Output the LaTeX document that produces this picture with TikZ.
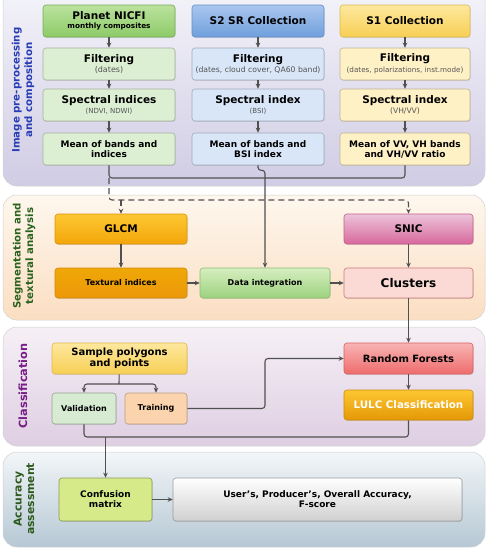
\documentclass[tikz,border=0pt]{standalone}
\usepackage{fontspec}
\setmainfont{DejaVu Sans}
\usepackage{tikz}
\usetikzlibrary{arrows.meta,positioning,calc,shadows}
\usepackage{xcolor}
\definecolor{planetG}{RGB}{140,203,104}
\definecolor{planetGtop}{RGB}{188,226,158}
\definecolor{planetGlight}{RGB}{220,239,211}
\definecolor{sentB}{RGB}{111,159,220}
\definecolor{sentBtop}{RGB}{170,198,238}
\definecolor{sentBlight}{RGB}{216,230,248}
\definecolor{sentY}{RGB}{248,207,85}
\definecolor{sentYtop}{RGB}{253,232,158}
\definecolor{sentYlight}{RGB}{255,241,198}
\definecolor{glcmO}{RGB}{243,166,10}
\definecolor{glcmOtop}{RGB}{253,199,50}
\definecolor{textureO}{RGB}{236,152,8}
\definecolor{integG}{RGB}{156,210,126}
\definecolor{integGtop}{RGB}{214,238,192}
\definecolor{snicP}{RGB}{216,104,156}
\definecolor{snicPtop}{RGB}{236,196,218}
\definecolor{clustP}{RGB}{251,218,214}
\definecolor{validG}{RGB}{214,235,210}
\definecolor{trainO}{RGB}{251,211,173}
\definecolor{forestR}{RGB}{238,108,108}
\definecolor{forestRtop}{RGB}{248,180,180}
\definecolor{lulcO}{RGB}{228,152,5}
\definecolor{confG}{RGB}{214,234,138}
\definecolor{metricG}{RGB}{208,208,208}
\definecolor{panA}{RGB}{208,204,228}
\definecolor{panAtop}{RGB}{244,244,250}
\definecolor{panB}{RGB}{251,222,194}
\definecolor{panBtop}{RGB}{254,247,238}
\definecolor{panC}{RGB}{222,206,226}
\definecolor{panCtop}{RGB}{246,240,246}
\definecolor{panD}{RGB}{182,200,212}
\definecolor{panDtop}{RGB}{242,246,248}
\definecolor{phaseblue}{RGB}{40,60,180}
\definecolor{phasegreen}{RGB}{40,100,30}
\definecolor{phasepurple}{RGB}{120,30,135}
\definecolor{phaseolive}{RGB}{45,90,30}
\definecolor{linkgray}{RGB}{80,80,80}
\definecolor{notegray}{RGB}{85,85,85}
\newcommand{\subnote}[2][7]{{\fontsize{#1}{8}\selectfont\mdseries\color{notegray}#2}}
\newcommand{\fsz}[1]{\fontsize{#1}{#1pt}\selectfont\bfseries}
\tikzset{
    box/.style={rectangle, rounded corners=3pt, line width=0.6pt, align=center, inner sep=1pt,
        minimum width=132pt, minimum height=32pt, font=\fsz{10.5},
        drop shadow={shadow xshift=0.6pt, shadow yshift=-0.9pt, opacity=0.25}},
    headG/.style={box, draw=planetG!85!black, top color=planetGtop, bottom color=planetG},
    headB/.style={box, draw=sentB!90!black, top color=sentBtop, bottom color=sentB},
    headY/.style={box, draw=sentY!90!black, top color=sentYtop, bottom color=sentY},
    subG/.style={box, draw=planetGlight!75!black, fill=planetGlight},
    subB/.style={box, draw=sentBlight!75!black, fill=sentBlight},
    subY/.style={box, draw=sentYlight!75!black, fill=sentYlight},
    glcm/.style={box, minimum height=30pt, draw=glcmO!90!black, top color=glcmOtop, bottom color=glcmO},
    texture/.style={box, minimum height=30pt, draw=textureO!90!black, top color=textureO!85!yellow, bottom color=textureO, font=\fsz{8}},
    integ/.style={box, minimum width=130pt, minimum height=30pt, draw=integG!90!black, top color=integGtop, bottom color=integG, font=\fsz{8}},
    snic/.style={box, minimum width=129pt, minimum height=30pt, draw=snicP!90!black, top color=snicPtop, bottom color=snicP},
    clust/.style={box, minimum width=129pt, minimum height=30pt, draw=clustP!70!red!80!black, fill=clustP, font=\fsz{12}},
    sample/.style={box, minimum width=135pt, minimum height=31pt, draw=sentY!90!black, top color=sentYtop, bottom color=sentY, font=\fsz{10}},
    valid/.style={box, minimum width=64pt, minimum height=31pt, draw=validG!70!black, fill=validG, font=\fsz{8}},
    train/.style={box, minimum width=62pt, minimum height=31pt, draw=trainO!75!black, fill=trainO, font=\fsz{8}},
    forest/.style={box, minimum width=129pt, minimum height=31pt, draw=forestR!90!black, top color=forestRtop, bottom color=forestR, font=\fsz{10}},
    lulc/.style={box, minimum width=129pt, minimum height=30pt, draw=lulcO!90!black, top color=glcmOtop, bottom color=lulcO, text=white, font=\fsz{10.3}},
    confm/.style={box, minimum width=93pt, minimum height=43pt, draw=confG!65!black, fill=confG, font=\fsz{9}},
    metric/.style={box, minimum width=289pt, minimum height=43pt, draw=metricG!75!black, top color=white, bottom color=metricG, font=\fsz{9}},
    panel/.style={rounded corners=14pt, draw=black!18, line width=0.5pt},
    phase/.style={rotate=90, align=center, font=\fontsize{10.2}{12.5}\selectfont\bfseries},
    arr/.style={-{Stealth[length=5pt, width=4.5pt]}, line width=1.1pt, linkgray, rounded corners=3pt},
    lnk/.style={line width=1.1pt, linkgray, rounded corners=3pt},
    dlink/.style={lnk, dash pattern=on 6pt off 4pt},
}

\begin{document}
\begin{tikzpicture}[x=1pt, y=-1pt]
    \useasboundingbox (0,0) rectangle (489,550);

    % Panels
    \draw[panel, top color=panAtop, bottom color=panA] (3,-14) rectangle (485,186);
    \draw[panel, top color=panBtop, bottom color=panB] (3,195) rectangle (485,320);
    \draw[panel, top color=panCtop, bottom color=panC] (3,327) rectangle (485,446);
    \draw[panel, top color=panDtop, bottom color=panD] (3,452) rectangle (485,547);

    % Phase labels
    \node[phase, text=phaseblue] (L1) at (23,90) {Image pre-processing\\and composition};
    \node[phase, text=phasegreen] (L2) at (24,256) {Segmentation and\\textural analysis};
    \node[phase, text=phasepurple, font=\fsz{11.3}] (L3) at (23,386) {Classification};
    \node[phase, text=phaseolive, font=\fontsize{10.8}{12.5}\selectfont\bfseries] (L4) at (24,499) {Accuracy\\assessment};

    % Planet NICFI
    \node[headG] (P0) at (109,21) {Planet NICFI\\[-1pt]{\fontsize{7.3}{8}\selectfont monthly composites}};
    \node[subG] (P1) at (109,64) {Filtering\\\subnote[8]{(dates)}};
    \node[subG] (P2) at (109,105) {Spectral indices\\\subnote{(NDVI, NDWI)}};
    \node[subG, font=\fsz{9}] (P3) at (109,149) {Mean of bands and\\[1pt]indices};

    % S2 SR
    \node[headB] (B0) at (258,21) {S2 SR Collection};
    \node[subB] (B1) at (258,64) {Filtering\\\subnote[7.7]{(dates, cloud cover, QA60 band)}};
    \node[subB] (B2) at (258,105) {Spectral index\\\subnote{(BSI)}};
    \node[subB, font=\fsz{9}] (B3) at (258,149) {Mean of bands and\\[1pt]BSI index};

    % S1
    \node[headY, minimum width=130pt] (Y0) at (405,21) {S1 Collection};
    \node[subY, minimum width=130pt] (Y1) at (405,64) {Filtering\\\subnote[7.2]{(dates, polarizations, inst.mode)}};
    \node[subY, minimum width=130pt] (Y2) at (405,105) {Spectral index\\\subnote[7.6]{(VH/VV)}};
    \node[subY, minimum width=130pt, font=\fsz{9}] (Y3) at (405,149) {Mean of VV, VH bands\\[1pt]and VH/VV ratio};

    \foreach \c in {P,B,Y} {
        \foreach \i/\j in {0/1, 1/2, 2/3} {
            \draw[arr] (\c\i) -- (\c\j);
        }
    }

    % Segmentation
    \node[glcm] (GLCM) at (121,229) {GLCM};
    \node[texture] (TX) at (121,283) {Textural indices};
    \node[integ] (DI) at (265,283) {Data integration};
    \node[snic] (SNIC) at (408.5,229) {SNIC};
    \node[clust] (CL) at (408.5,283) {Clusters};

    \coordinate (topjoin) at (109,178);
    \coordinate (dashjoin) at (408.5,200);
    \draw[lnk] (P3) -- (topjoin) -| (Y3);
    \draw[arr] (B3.south) -- ++(0,5) -| (DI.north);
    \draw[dlink, -{Stealth[length=5pt, width=4.5pt]}] (topjoin) |- (dashjoin) -- (SNIC.north);
    \draw[dlink, -{Stealth[length=5pt, width=4.5pt]}] (GLCM.north |- dashjoin) -- (GLCM.north);
    \draw[arr] (GLCM) -- (TX);
    \draw[arr] (TX) -- (DI);
    \draw[arr] (DI) -- (CL);
    \draw[arr] (SNIC) -- (CL);

    % Classification
    \node[sample] (SP) at (119.5,358.5) {Sample polygons\\[1pt]and points};
    \node[valid] (VA) at (84,408.5) {Validation};
    \node[train] (TR) at (156,408.5) {Training};
    \node[forest] (RF) at (408.5,358.5) {Random Forests};
    \node[lulc] (LU) at (408.5,405) {LULC Classification};

    \coordinate (split) at (119,384);
    \coordinate (trbend) at (265,408.5);
    \draw[lnk] (SP) -- (split);
    \draw[arr] (split) -| (VA);
    \draw[arr] (split) -| (TR);
    \draw[arr] (TR) -- (trbend) |- (RF);
    \draw[arr] (CL) -- (RF);
    \draw[arr] (RF) -- (LU);

    % Accuracy
    \node[confm] (CM) at (105.5,499.5) {Confusion\\[1pt]matrix};
    \node[metric] (UM) at (317.5,499.5) {User's, Producer's, Overall Accuracy,\\[1pt]F-score};

    \coordinate (accjoin) at (105.5,437);
    \draw[lnk] (LU) |- (accjoin);
    \draw[lnk] (VA) |- (accjoin);
    \draw[arr] (accjoin) -- (CM);
    \draw[arr] (CM) -- (UM);
\end{tikzpicture}
\end{document}
